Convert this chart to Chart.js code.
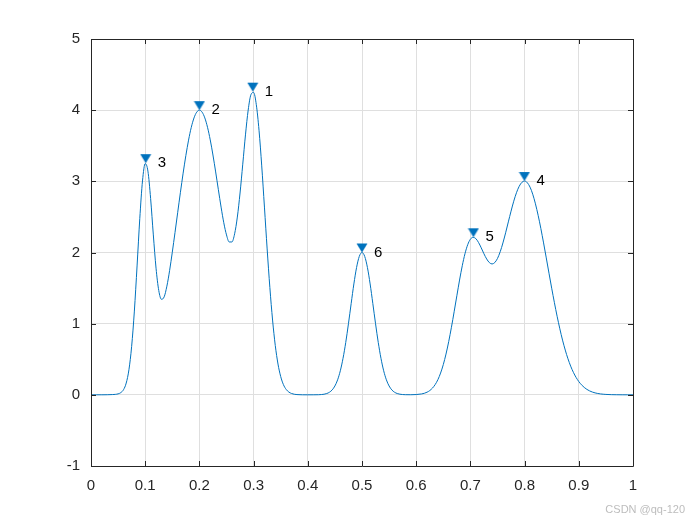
<!DOCTYPE html>
<html>
<head>
<meta charset="utf-8">
<script src="https://cdn.jsdelivr.net/npm/chart.js@4/dist/chart.umd.min.js"></script>
<style>
  body { margin: 0; background: #fff; }
  #wrap { width: 700px; height: 525px; }
</style>
</head>
<body>
<div id="wrap"><canvas id="peaks" width="700" height="525"></canvas></div>
<script>
// señal
var xs = [0, 0.01, 0.02, 0.03, 0.04, 0.045, 0.05, 0.055, 0.06, 0.065, 0.07, 0.075, 0.08, 0.085, 0.09, 0.095,
  0.1, 0.105, 0.11, 0.115, 0.12, 0.125, 0.13, 0.135, 0.14, 0.145, 0.15, 0.155, 0.16, 0.165, 0.17, 0.175,
  0.18, 0.185, 0.19, 0.195, 0.2, 0.205, 0.21, 0.215, 0.22, 0.225, 0.23, 0.235, 0.24, 0.245, 0.25, 0.255,
  0.26, 0.265, 0.27, 0.275, 0.28, 0.285, 0.29, 0.295, 0.3, 0.305, 0.31, 0.315, 0.32, 0.325, 0.33, 0.335,
  0.34, 0.345, 0.35, 0.355, 0.36, 0.365, 0.37, 0.375, 0.38, 0.39, 0.4, 0.41, 0.42, 0.425, 0.43, 0.435,
  0.44, 0.445, 0.45, 0.455, 0.46, 0.465, 0.47, 0.475, 0.48, 0.485, 0.49, 0.495, 0.5, 0.505, 0.51, 0.515,
  0.52, 0.525, 0.53, 0.535, 0.54, 0.545, 0.55, 0.555, 0.56, 0.565, 0.57, 0.575, 0.58, 0.59, 0.6, 0.61,
  0.615, 0.62, 0.625, 0.63, 0.635, 0.64, 0.645, 0.65, 0.655, 0.66, 0.665, 0.67, 0.675, 0.68, 0.685, 0.69,
  0.695, 0.7, 0.705, 0.71, 0.715, 0.72, 0.725, 0.73, 0.735, 0.74, 0.745, 0.75, 0.755, 0.76, 0.765, 0.77,
  0.775, 0.78, 0.785, 0.79, 0.795, 0.8, 0.805, 0.81, 0.815, 0.82, 0.825, 0.83, 0.835, 0.84, 0.845, 0.85,
  0.855, 0.86, 0.865, 0.87, 0.875, 0.88, 0.885, 0.89, 0.895, 0.9, 0.905, 0.91, 0.915, 0.92, 0.925, 0.93,
  0.935, 0.94, 0.945, 0.95, 0.96, 0.97, 0.98, 0.99, 1];
var ys = [0, 0.0002, 0.0005, 0.0013, 0.004, 0.0066, 0.0135, 0.031, 0.072, 0.166, 0.353, 0.681, 1.177, 1.811, 2.475, 3.005,
  3.249, 3.144, 2.758, 2.247, 1.780, 1.467, 1.342, 1.377, 1.527, 1.745, 2.004, 2.281, 2.565, 2.846, 3.115, 3.362,
  3.579, 3.758, 3.890, 3.972, 4.000, 3.972, 3.891, 3.759, 3.582, 3.370, 3.132, 2.883, 2.638, 2.418, 2.247, 2.148,
  2.148, 2.263, 2.498, 2.836, 3.241, 3.653, 4.001, 4.216, 4.249, 4.077, 3.718, 3.217, 2.638, 2.050, 1.508, 1.051,
  0.693, 0.433, 0.257, 0.144, 0.077, 0.039, 0.019, 0.008, 0.0035, 0.0005, 0.0001, 0.0003, 0.0016, 0.0039, 0.0086, 0.0183,
  0.0366, 0.0694, 0.1244, 0.2108, 0.338, 0.513, 0.736, 0.999, 1.282, 1.558, 1.790, 1.945, 2.000, 1.945, 1.790, 1.558,
  1.282, 0.999, 0.736, 0.513, 0.338, 0.2108, 0.1244, 0.0694, 0.0366, 0.0183, 0.0087, 0.004, 0.0019, 0.0013, 0.0039, 0.0128,
  0.022, 0.037, 0.060, 0.0946, 0.144, 0.213, 0.306, 0.425, 0.573, 0.749, 0.949, 1.167, 1.392, 1.613, 1.814, 1.983,
  2.109, 2.187, 2.213, 2.195, 2.141, 2.065, 1.982, 1.909, 1.858, 1.839, 1.859, 1.917, 2.011, 2.134, 2.277, 2.430,
  2.581, 2.721, 2.840, 2.930, 2.986, 3.004, 2.981, 2.919, 2.819, 2.684, 2.522, 2.336, 2.135, 1.924, 1.709, 1.498,
  1.295, 1.104, 0.928, 0.769, 0.629, 0.507, 0.403, 0.316, 0.2445, 0.1866, 0.1404, 0.104, 0.0762, 0.055, 0.0391, 0.0275,
  0.019, 0.013, 0.0087, 0.0058, 0.0024, 0.001, 0.0004, 0.0001, 0];

// picos encontrados (ordenados por altura)
var peakX = [0.2985, 0.2, 0.101, 0.7997, 0.7055, 0.5];
var peakY = [4.26, 4.0, 3.255, 3.004, 2.214, 2.0];
var peakLabels = ["1", "2", "3", "4", "5", "6"];

var lineColor = "#0072BD";
var axisColor = "#262626";
var fontFamily = "'Liberation Sans', Arial, sans-serif";

var signalData = [];
for (var i = 0; i < xs.length; i++) {
  signalData.push({x: xs[i], y: ys[i]});
}
var peakData = [];
for (var i = 0; i < peakX.length; i++) {
  peakData.push({x: peakX[i], y: peakY[i]});
}

// marcador triangulo hacia abajo con la punta sobre el pico
var marker = document.createElement("canvas");
marker.width = 12;
marker.height = 20;
var mctx = marker.getContext("2d");
mctx.fillStyle = lineColor;
mctx.beginPath();
mctx.moveTo(0.5, 1);
mctx.lineTo(11.5, 1);
mctx.lineTo(6, 10);
mctx.closePath();
mctx.fill();

var boxPlugin = {
  id: "boxPlugin",
  afterDatasetsDraw: function(chart) {
    var ctx = chart.ctx;
    var xScale = chart.scales.x;
    var yScale = chart.scales.y;
    ctx.save();
    ctx.fillStyle = "#000";
    ctx.font = "15px " + fontFamily;
    ctx.textBaseline = "middle";
    ctx.textAlign = "left";
    for (var i = 0; i < peakLabels.length; i++) {
      ctx.fillText(peakLabels[i], xScale.getPixelForValue(peakX[i]) + 12, yScale.getPixelForValue(peakY[i]));
    }
    ctx.restore();
  },
  afterDraw: function(chart) {
    var ctx = chart.ctx;
    var a = chart.chartArea;
    var xScale = chart.scales.x;
    var yScale = chart.scales.y;
    ctx.save();
    ctx.strokeStyle = axisColor;
    ctx.lineWidth = 1;
    ctx.beginPath();
    ctx.rect(Math.round(a.left) + 0.5, Math.round(a.top) + 0.5, Math.round(a.right - a.left), Math.round(a.bottom - a.top));
    ctx.stroke();
    // ticks hacia adentro
    ctx.beginPath();
    xScale.ticks.forEach(function(t) {
      var px = Math.round(xScale.getPixelForValue(t.value)) + 0.5;
      ctx.moveTo(px, a.bottom);
      ctx.lineTo(px, a.bottom - 5);
      ctx.moveTo(px, a.top);
      ctx.lineTo(px, a.top + 5);
    });
    yScale.ticks.forEach(function(t) {
      var py = Math.round(yScale.getPixelForValue(t.value)) + 0.5;
      ctx.moveTo(a.left, py);
      ctx.lineTo(a.left + 5, py);
      ctx.moveTo(a.right, py);
      ctx.lineTo(a.right - 5, py);
    });
    ctx.stroke();
    // marca de agua
    ctx.fillStyle = "#bdbdbd";
    ctx.font = "11px " + fontFamily;
    ctx.textAlign = "right";
    ctx.textBaseline = "middle";
    ctx.fillText("CSDN @qq-120", 685, 510);
    ctx.restore();
  }
};

var chartPeaks = new Chart(document.getElementById("peaks"), {
  type: "line",
  data: {
    datasets: [{
      data: signalData,
      borderColor: lineColor,
      borderWidth: 1,
      pointRadius: 0,
      fill: false,
      cubicInterpolationMode: "monotone"
    },
    {
      data: peakData,
      showLine: false,
      pointStyle: marker,
      pointRadius: 6,
      borderWidth: 0
    }]
  },
  options: {
    responsive: false,
    animation: false,
    devicePixelRatio: 1,
    layout: { padding: { left: 0, top: 39, right: 67, bottom: 0 } },
    plugins: {
      legend: { display: false },
      tooltip: { enabled: false }
    },
    scales: {
      x: {
        type: "linear",
        min: 0,
        max: 1,
        ticks: {
          stepSize: 0.1,
          color: axisColor,
          padding: 11,
          maxRotation: 0,
          font: { family: fontFamily, size: 15 },
          callback: function(value) { return String(Number(value.toFixed(1))); }
        },
        grid: { color: "#dfdfdf", drawTicks: false },
        border: { display: false },
        afterFit: function(scale) { scale.height = 59; }
      },
      y: {
        type: "linear",
        min: -1,
        max: 5,
        ticks: {
          stepSize: 1,
          color: axisColor,
          padding: 11,
          font: { family: fontFamily, size: 15 }
        },
        grid: { color: "#dfdfdf", drawTicks: false },
        border: { display: false },
        afterFit: function(scale) { scale.width = 91; }
      }
    }
  },
  plugins: [boxPlugin]
});
</script>
</body>
</html>
